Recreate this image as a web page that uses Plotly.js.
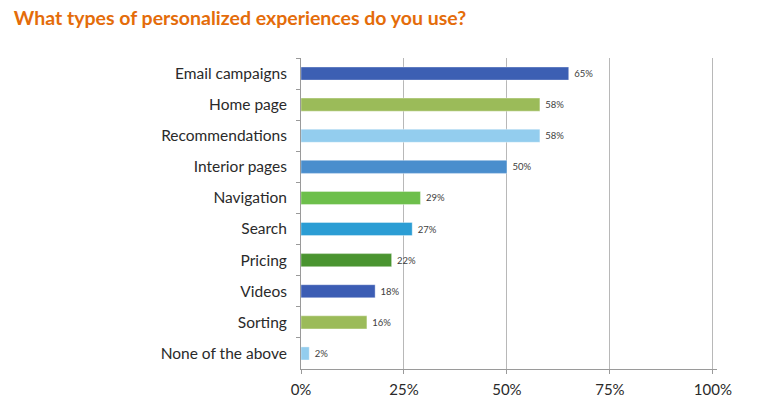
<!DOCTYPE html>
<html>
<head>
<meta charset="utf-8">
<script src="https://cdn.plot.ly/plotly-3.0.1.min.js"></script>
<style>html,body{margin:0;padding:0;background:#fff;}#chart{width:768px;height:412px;}</style>
</head>
<body>
<div id="chart"></div>
<script>
var categories = ["Email campaigns","Home page","Recommendations","Interior pages","Navigation","Search","Pricing","Videos","Sorting","None of the above"];
var values = [65,58,58,50,29,27,22,18,16,2];
var valueLabels = ["65%","58%","58%","50%","29%","27%","22%","18%","16%","2%"];
var barColors = ["#3c5fb3","#9bbb59","#93cdee","#4a8ecd","#6dbf4b","#2b9dd4","#4a9430","#3c5db4","#9bbb59","#93cdee"];
var xTickVals = [0,25,50,75,100];
var xTickText = ["0%","25%","50%","75%","100%"];

var trace = {
  type: "bar",
  orientation: "h",
  y: categories,
  x: values,
  width: 0.42,
  marker: {color: barColors, line: {color: "rgba(255,255,255,0.6)", width: 0.6}},
  text: valueLabels,
  texttemplate: " %{text}",
  textposition: "outside",
  cliponaxis: false,
  textfont: {family: "Lato, sans-serif", size: 9.5, color: "#404040"},
  hoverinfo: "none"
};

var layout = {
  width: 768,
  height: 412,
  paper_bgcolor: "#fff",
  plot_bgcolor: "#fff",
  showlegend: false,
  margin: {l: 301, r: 51, t: 58, b: 43, pad: 0},
  title: {
    text: "<b>What types of personalized experiences do you use?</b>",
    font: {family: "Lato, sans-serif", size: 19.5, color: "#e46c0a"},
    x: 0.018, xanchor: "left", xref: "container",
    y: 0.955, yanchor: "middle", yref: "container"
  },
  xaxis: {
    range: [0, 101],
    tickvals: xTickVals,
    ticktext: xTickText,
    showgrid: true,
    gridcolor: "#b8b8b8",
    gridwidth: 1,
    zeroline: false,
    showline: true,
    linecolor: "#9a9a9a",
    linewidth: 1,
    ticks: "outside",
    ticklen: 4,
    tickcolor: "#9a9a9a",
    ticklabelstandoff: 3,
    tickfont: {family: "Lato, sans-serif", size: 15, color: "#2a2a2a"},
    fixedrange: true
  },
  yaxis: {
    type: "category",
    autorange: "reversed",
    showgrid: false,
    zeroline: false,
    showline: true,
    linecolor: "#9a9a9a",
    linewidth: 1,
    ticks: "outside",
    ticklen: 4,
    tickcolor: "#9a9a9a",
    tickson: "boundaries",
    ticklabelstandoff: 10,
    tickfont: {family: "Lato, sans-serif", size: 15.5, color: "#2a2a2a"},
    automargin: false,
    fixedrange: true
  },
  bargap: 0.58
};

Plotly.newPlot("chart", [trace], layout, {displayModeBar: false, staticPlot: true});
</script>
</body>
</html>
